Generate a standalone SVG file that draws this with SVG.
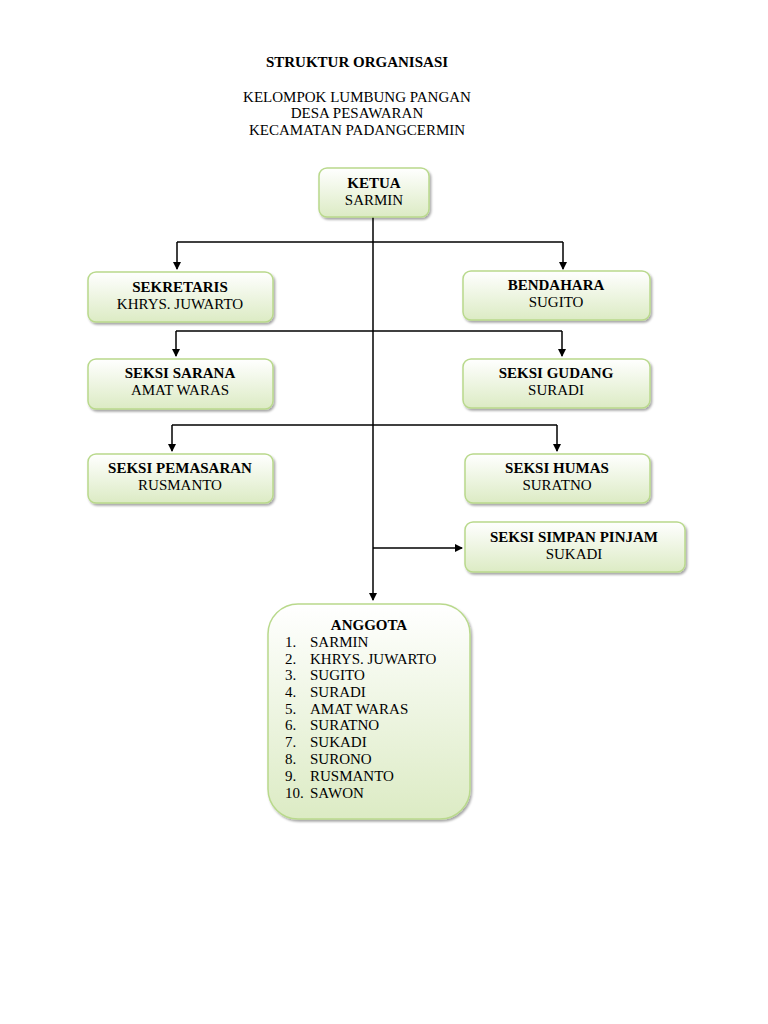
<svg xmlns="http://www.w3.org/2000/svg" width="768" height="1024" viewBox="0 0 768 1024">
<defs>
<linearGradient id="g" x1="0" y1="0" x2="0" y2="1"><stop offset="0" stop-color="#ffffff"/><stop offset="1" stop-color="#dcebc4"/></linearGradient>
<filter id="sh" x="-10%" y="-10%" width="130%" height="140%"><feDropShadow dx="1.5" dy="2" stdDeviation="1.2" flood-color="#000" flood-opacity="0.35"/></filter>
<marker id="a" markerWidth="8" markerHeight="8" refX="7" refY="4" orient="auto" markerUnits="userSpaceOnUse"><path d="M0,0 L8,4 L0,8 Z" fill="#000"/></marker>
</defs>
<style>
text{font-family:"Liberation Serif","Times New Roman",serif;font-size:15px;fill:#000}
.b{font-weight:bold}
.m{text-anchor:middle}
.box{fill:url(#g);stroke:#b9d98c;stroke-width:1.5;filter:url(#sh)}
.c{stroke:#000;stroke-width:1.5;fill:none}
</style>
<rect width="768" height="1024" fill="#fff"/>
<text x="357" y="67" class="m b">STRUKTUR ORGANISASI</text>
<text x="357" y="102" class="m">KELOMPOK LUMBUNG PANGAN</text>
<text x="357" y="118" class="m">DESA PESAWARAN</text>
<text x="357" y="135" class="m">KECAMATAN PADANGCERMIN</text>
<g id="connectors">
<path class="c" d="M373,217 V600" marker-end="url(#a)"/>
<path class="c" d="M177,242 H563"/>
<path class="c" d="M177,242 V269" marker-end="url(#a)"/>
<path class="c" d="M563,242 V269" marker-end="url(#a)"/>
<path class="c" d="M176,331 H562"/>
<path class="c" d="M176,331 V356" marker-end="url(#a)"/>
<path class="c" d="M562,331 V356" marker-end="url(#a)"/>
<path class="c" d="M172,425 H557"/>
<path class="c" d="M172,425 V451" marker-end="url(#a)"/>
<path class="c" d="M557,425 V451" marker-end="url(#a)"/>
<path class="c" d="M373,548 H462" marker-end="url(#a)"/>
</g>
<g id="ketua"><rect class="box" x="319" y="168" width="110" height="49" rx="8"/><text x="374" y="188" class="m b">KETUA</text><text x="374" y="205" class="m">SARMIN</text></g>
<g id="sekretaris"><rect class="box" x="88" y="272" width="185" height="50" rx="8"/><text x="180" y="292" class="m b">SEKRETARIS</text><text x="180" y="309" class="m">KHRYS. JUWARTO</text></g>
<g id="bendahara"><rect class="box" x="463" y="271" width="187" height="49" rx="8"/><text x="556" y="290" class="m b">BENDAHARA</text><text x="556" y="307" class="m">SUGITO</text></g>
<g id="sarana"><rect class="box" x="88" y="359" width="185" height="50" rx="8"/><text x="180" y="378" class="m b">SEKSI SARANA</text><text x="180" y="395" class="m">AMAT WARAS</text></g>
<g id="gudang"><rect class="box" x="463" y="359" width="187" height="49" rx="8"/><text x="556" y="378" class="m b">SEKSI GUDANG</text><text x="556" y="395" class="m">SURADI</text></g>
<g id="pemasaran"><rect class="box" x="88" y="454" width="185" height="49" rx="8"/><text x="180" y="473" class="m b">SEKSI PEMASARAN</text><text x="180" y="490" class="m">RUSMANTO</text></g>
<g id="humas"><rect class="box" x="465" y="454" width="185" height="49" rx="8"/><text x="557" y="473" class="m b">SEKSI HUMAS</text><text x="557" y="490" class="m">SURATNO</text></g>
<g id="simpanpinjam"><rect class="box" x="465" y="522" width="220" height="50" rx="8"/><text x="574" y="542" class="m b">SEKSI SIMPAN PINJAM</text><text x="574" y="559" class="m">SUKADI</text></g>
<g id="anggota"><rect class="box" x="268" y="604" width="202" height="215" rx="30"/>
<text x="369" y="630" class="m b">ANGGOTA</text>
<text x="285" y="647">1.</text><text x="310" y="647">SARMIN</text>
<text x="285" y="664">2.</text><text x="310" y="664">KHRYS. JUWARTO</text>
<text x="285" y="680">3.</text><text x="310" y="680">SUGITO</text>
<text x="285" y="697">4.</text><text x="310" y="697">SURADI</text>
<text x="285" y="714">5.</text><text x="310" y="714">AMAT WARAS</text>
<text x="285" y="730">6.</text><text x="310" y="730">SURATNO</text>
<text x="285" y="747">7.</text><text x="310" y="747">SUKADI</text>
<text x="285" y="764">8.</text><text x="310" y="764">SURONO</text>
<text x="285" y="781">9.</text><text x="310" y="781">RUSMANTO</text>
<text x="285" y="798">10.</text><text x="310" y="798">SAWON</text>
</g>
</svg>
